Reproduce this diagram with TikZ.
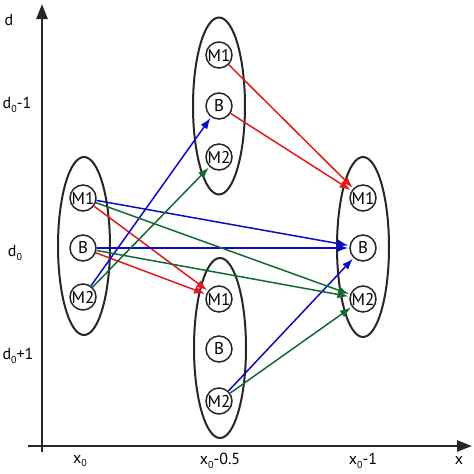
\documentclass[tikz,border=0pt]{standalone}
\usepackage{fontspec}
\setmainfont{PT Sans}
\usetikzlibrary{arrows.meta,shapes.geometric}
\definecolor{cred}{RGB}{225,25,30}
\definecolor{cblue}{RGB}{10,10,200}
\definecolor{cgreen}{RGB}{20,105,50}
\newcommand{\zsub}{\raisebox{-3.5pt}{\fontsize{10}{10}\selectfont 0}}
\begin{document}
\begin{tikzpicture}[x=1pt,y=-1pt,
  grp/.style={draw=black!85,line width=2pt,ellipse,inner sep=0pt,minimum width=52pt,minimum height=180pt},
  st/.style={draw=black!85,line width=1.5pt,circle,inner sep=0pt,minimum size=26pt,font=\fontsize{17}{17}\selectfont},
  lab/.style={font=\fontsize{16}{16}\selectfont,inner sep=0pt},
  axis/.style={line width=2.4pt,black!85,-{Triangle[length=15pt,width=11pt]}},
  tr/.style={line width=1.5pt,-{Latex[length=11pt,width=8pt]},shorten >=1pt,shorten <=0pt}]
\useasboundingbox (0,0) rectangle (474,474);
% axes
\coordinate (yb) at (42,452);
\coordinate (yt) at (42,4);
\coordinate (xl) at (28,446);
\coordinate (xr) at (472,446);
\draw[axis] (yb) -- (yt);
\draw[axis] (xl) -- (xr);
\node[lab] (ld) at (9,20) {d};
\node[lab] (ld1) at (17,105) {d\zsub-1};
\node[lab] (ld0) at (15,253) {d\zsub};
\node[lab] (ld2) at (18,356) {d\zsub+1};
\node[lab] (lx0) at (80,461) {x\zsub};
\node[lab] (lx1) at (220,461) {x\zsub-0.5};
\node[lab] (lx2) at (363,461) {x\zsub-1};
\node[lab] (lx) at (459,460) {x};
% groups
\node[grp,minimum height=178pt] (gL) at (84,246) {};
\node[grp,minimum height=177pt] (gT) at (219,106) {};
\node[grp,minimum height=180pt] (gB) at (220,348) {};
\node[grp,minimum height=180pt] (gR) at (363,247) {};
% states
\node[st] (LM1) at (83,198) {M1};
\node[st] (LB) at (83,248) {B};
\node[st] (LM2) at (83,297) {M2};
\node[st] (TM1) at (219,55) {M1};
\node[st] (TB) at (219,106) {B};
\node[st] (TM2) at (219,157) {M2};
\node[st] (BM1) at (219,299) {M1};
\node[st] (BB) at (219,349) {B};
\node[st] (BM2) at (219,401) {M2};
\node[st] (RM1) at (363,198) {M1};
\node[st] (RB) at (363,248) {B};
\node[st] (RM2) at (363,299) {M2};
% transitions
\draw[tr,cred] (LM1) -- (BM1);
\draw[tr,cred] (LB) -- (BM1);
\draw[tr,cred] (TM1) -- (RM1);
\draw[tr,cred] (TB) -- (RM1);
\draw[tr,cblue] (LM2) -- (TB);
\draw[tr,cblue] (LM1) -- (RB);
\draw[tr,cblue] (LB) -- (RB);
\draw[tr,cblue] (BM2) -- (RB);
\draw[tr,cgreen] (LM2) -- (TM2);
\draw[tr,cgreen] (LM1) -- (RM2);
\draw[tr,cgreen] (LB) -- (RM2);
\draw[tr,cgreen] (BM2) -- (RM2);
\end{tikzpicture}
\end{document}
